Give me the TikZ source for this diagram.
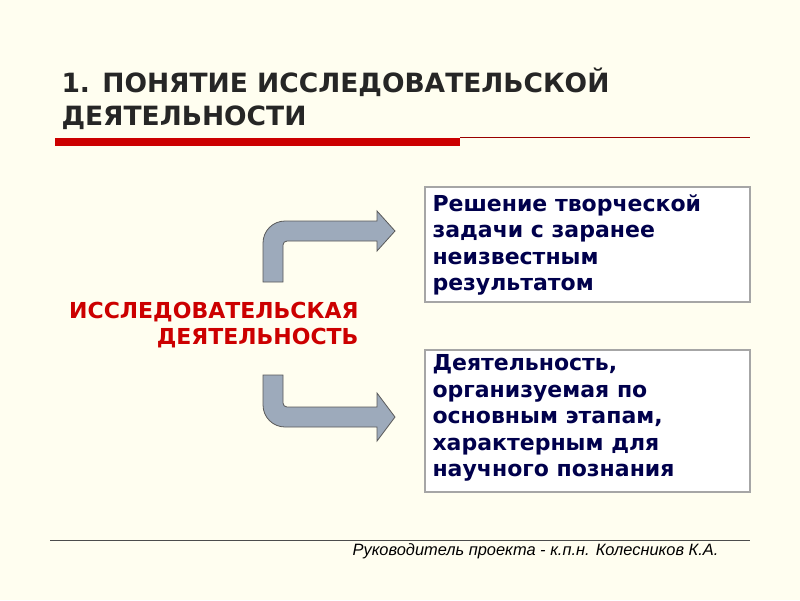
\documentclass[tikz,border=0pt]{standalone}
\usepackage{fontspec}
\setmainfont{DejaVu Sans}
\newfontfamily\footfont{Liberation Sans}
\definecolor{arrfill}{HTML}{9DAABB}
\begin{document}
\begin{tikzpicture}[x=1pt,y=-1pt,
  boxst/.style={draw=gray!70,line width=1.2pt,fill=white},
  boxtext/.style={font=\bfseries\fontsize{22}{26.5}\selectfont,text=blue!30!black,align=left,anchor=north west},
  arr/.style={fill=arrfill,draw=gray!70!black,line width=0.8pt}]
\fill[yellow!6!white] (0,0) rectangle (800,600);
\useasboundingbox (0,0) rectangle (800,600);
\node[anchor=west,font=\bfseries\fontsize{26.5}{33}\selectfont,align=left,text=black!85] (title) at (58,99) {1. ПОНЯТИЕ ИССЛЕДОВАТЕЛЬСКОЙ\\ДЕЯТЕЛЬНОСТИ};
\fill[red!80!black] (55,138) rectangle (460,146);
\draw[red!60!black,line width=0.5pt] (460,137) -- (750,137);
\draw[boxst] (425,187) rectangle (750,302);
\node[boxtext] (b1) at (429,191) {Решение творческой\\задачи с заранее\\неизвестным\\результатом};
\draw[boxst] (425,350) rectangle (750,492);
\node[boxtext] (b2) at (429,351) {Деятельность,\\организуемая по\\основным этапам,\\характерным для\\научного познания};
\node[anchor=east,align=right,text=red!80!black,font=\bfseries\fontsize{22}{26}\selectfont] (lab) at (362,325) {ИССЛЕДОВАТЕЛЬСКАЯ\\ДЕЯТЕЛЬНОСТЬ};
\draw[arr] (263,282) [rounded corners=22pt]-- (263,221) [sharp corners]-- (377,221) -- (377,211) -- (395,231) -- (377,251) -- (377,241) [rounded corners=4pt]-- (283,241) [sharp corners]-- (283,282) -- cycle;
\draw[arr] (263,375) [rounded corners=22pt]-- (263,427) [sharp corners]-- (377,427) -- (377,441) -- (395,417) -- (377,393) -- (377,407) [rounded corners=4pt]-- (283,407) [sharp corners]-- (283,375) -- cycle;
\draw[black!70,line width=0.5pt] (50,540) -- (750,540);
\node[anchor=east,font=\footfont\itshape\fontsize{16.4}{18}\selectfont] (foot) at (722,551) {Руководитель проекта - к.п.н. Колесников К.А.};
\end{tikzpicture}
\end{document}
